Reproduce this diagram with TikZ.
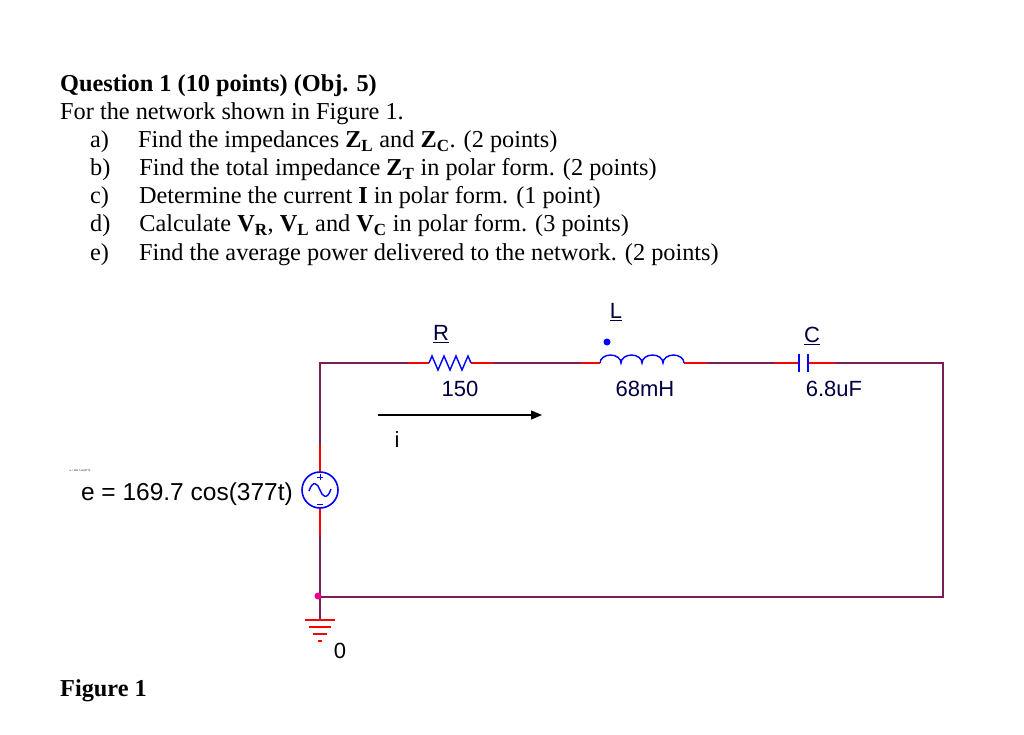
\documentclass[tikz,border=0pt]{standalone}
\usepackage{fontspec}
\setmainfont{Liberation Serif}
\newfontfamily\arialf{Liberation Sans}
\usetikzlibrary{arrows.meta}
\begin{document}
\begin{tikzpicture}[x=1pt,y=-1pt,
 wire/.style={draw=wirec,line width=1.5pt},
 red/.style={draw=red,line width=1.5pt},
 comp/.style={draw=blue,line width=1.4pt},
 q/.style={anchor=base west,inner sep=0,font=\fontsize{24.3}{28}\selectfont},
 lab/.style={inner sep=0,font=\arialf\fontsize{22}{26}\selectfont,text=black!75!blue}]
\definecolor{wirec}{HTML}{7A1F55}
\useasboundingbox (0,0) rectangle (1024,735);
\node[q] (t0) at (60,92) {\textbf{Question 1 (10 points) (Obj. 5)}};
\node[q] (t1) at (60,120) {For the network shown in Figure 1.};
\node[q] (a1) at (90,148) {a)\hspace{29pt}Find the impedances $\mathbf{Z}_{\mathbf{L}}$ and $\mathbf{Z}_{\mathbf{C}}$. (2 points)};
\node[q] (a2) at (90,176) {b)\hspace{29pt}Find the total impedance $\mathbf{Z}_{\mathbf{T}}$ in polar form. (2 points)};
\node[q] (a3) at (90,204) {c)\hspace{30pt}Determine the current \textbf{I} in polar form. (1 point)};
\node[q] (a4) at (90,232) {d)\hspace{29pt}Calculate $\mathbf{V}_{\mathbf{R}}$, $\mathbf{V}_{\mathbf{L}}$ and $\mathbf{V}_{\mathbf{C}}$ in polar form. (3 points)};
\node[q] (a5) at (90,260) {e)\hspace{30pt}Find the average power delivered to the network. (2 points)};
\node[q] (fig) at (60,696) {\textbf{Figure 1}};
% wires
\draw[wire] (320,445) -- (320,363) -- (408,363);
\draw[wire] (493,363) -- (581,363);
\draw[wire] (707,363) -- (774,363);
\draw[wire] (835,363) -- (943,363) -- (943,597) -- (320,597) -- (320,535);
\draw[wire] (320,597) -- (320,620);
% resistor
\draw[red] (408,363) -- (429,363);
\draw[red] (471,363) -- (493,363);
\draw[comp] (429,363) -- (432,356) -- (438,370) -- (444,356) -- (450,370) -- (456,356) -- (462,370) -- (468,356) -- (471,363);
\node[lab] (rl) at (441,334) {\underline{R}};
\node[lab] (rv) at (460,389) {150};
% inductor
\draw[red] (581,363) -- (600,363);
\draw[red] (684,363) -- (707,363);
\draw[comp] (600,363) arc(180:360:10.5 and 8) arc(180:360:10.5 and 8) arc(180:360:10.5 and 8) arc(180:360:10.5 and 8);
\fill[blue] (607,342) circle (3.5);
\node[lab] (ll) at (616,312) {\underline{L}};
\node[lab] (lv) at (645,389) {68mH};
% capacitor
\draw[red] (774,363) -- (799,363);
\draw[red] (808,363) -- (835,363);
\draw[comp] (799,354) -- (799,372) (808,354) -- (808,372);
\node[lab] (cl) at (812,336) {\underline{C}};
\node[lab] (cv) at (834,389) {6.8uF};
% source
\draw[red] (320,445) -- (320,472) (320,508) -- (320,535);
\node[draw=blue,line width=1.6pt,circle,minimum size=36pt,inner sep=0] (src) at (320,490) {};
\draw[blue,line width=1.4pt] (309,491) .. controls (313,479) and (318,484) .. (320,490) .. controls (322,496) and (327,501) .. (331,489);
\draw[blue,line width=1pt] (317,477)--(323,477) (320,474)--(320,480) (317,504)--(323,504);
\node[lab,anchor=east,text=black,font=\arialf\fontsize{24.5}{28}\selectfont] (ev) at (293,494) {e = 169.7 cos(377t)};
\node[inner sep=0,font=\arialf\fontsize{2.5}{3}\selectfont] (tiny) at (80,471) {e = 169.7 sin(377t)};
% ground
\fill[magenta] (318,596) circle (3.5);
\draw[red] (305,620)--(335,620) (309,627)--(331,627) (313,634)--(327,634) (318,641)--(322,641);
\node[lab,text=black] (g0) at (340,651) {0};
% current arrow
\coordinate (i1) at (378,415); \coordinate (i2) at (542,415);
\draw[line width=1.2pt,-{Triangle[length=11pt,width=9pt]}] (i1) -- (i2);
\node[lab,text=black] (il) at (397,440) {i};
\end{tikzpicture}
\end{document}
